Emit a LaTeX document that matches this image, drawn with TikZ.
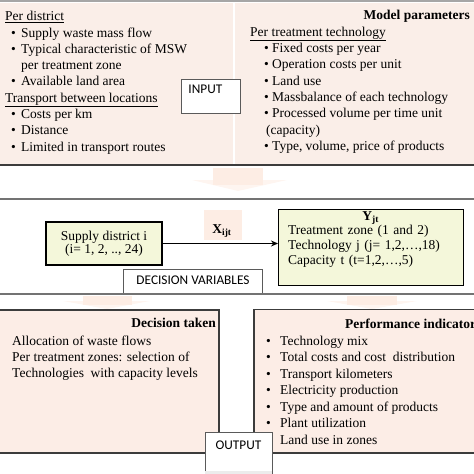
\documentclass[tikz,border=0pt]{standalone}
\usepackage{fontspec}
\setmainfont{Liberation Serif}
\newfontfamily\calib{Carlito}
\usetikzlibrary{arrows.meta}
\definecolor{pinkA}{RGB}{250,238,232}
\definecolor{pinkB}{RGB}{252,237,230}
\definecolor{faint}{RGB}{253,237,228}
\definecolor{fainter}{RGB}{254,245,240}
\definecolor{yel}{RGB}{244,247,218}
\definecolor{lineg}{RGB}{115,115,115}
\definecolor{darkg}{RGB}{60,60,60}
\definecolor{boxg}{RGB}{90,90,90}
\newcommand\mystrut{\rule{0pt}{13pt}}
\newcommand\bulL{\makebox[10pt][l]{\textbullet}}
\newcommand\bulR{\makebox[8pt][l]{\textbullet}}
\newcommand\bulP{\makebox[14pt][l]{\textbullet}}
\begin{document}
\begin{tikzpicture}[x=1pt,y=-1pt,
  txt/.style={inner sep=0pt, anchor=north west, align=left, font=\fontsize{13.5}{16.3}\selectfont},
  ttl/.style={inner sep=0pt, font=\fontsize{13.5}{16}\selectfont\bfseries},
  yelbox/.style={draw=black, line width=1.3pt, fill=yel, inner sep=0pt},
  sanslab/.style={draw=boxg, line width=0.9pt, fill=white, font=\calib\fontsize{13.3}{15}\selectfont, inner ysep=0pt},
  sect/.style={line width=2pt, draw=lineg},
  outbox/.style={draw=darkg, line width=1.4pt, fill=pinkB},
  arr/.style={line width=1.4pt, -{Stealth[length=7pt,width=6pt]}},
  faintfill/.style={fill=faint, draw=none},
  fainterfill/.style={fill=fainter, draw=none}]
\useasboundingbox (0,0) rectangle (474,474);
% ---------- top section ----------
\fill[pinkA] (0,2.5) rectangle (233,164);
\fill[pinkA] (235,2.5) rectangle (474,164);
\draw[line width=2.5pt, draw=gray!70] (0,1.2) -- (474,1.2);
\draw[line width=2.5pt, draw=darkg] (0,165) -- (474,165);
\node[txt] (leftin) at (5,7.5) {\mystrut\underline{Per district}\\
\hspace*{6pt}\bulL Supply waste mass flow\\
\hspace*{6pt}\bulL Typical characteristic of MSW\\
\hspace*{16pt}per treatment zone\\
\hspace*{6pt}\bulL Available land area\\
\underline{Transport between locations}\\
\hspace*{6pt}\bulL Costs per km\\
\hspace*{6pt}\bulL Distance\\
\hspace*{6pt}\bulL Limited in transport routes};
\node[ttl, anchor=base east] (mp) at (470,19.5) {Model parameters};
\node[txt] (rightin) at (250,23) {\mystrut\underline{Per treatment technology}\\
\hspace*{14pt}\bulR Fixed costs per year\\
\hspace*{14pt}\bulR Operation costs\ per unit\\
\hspace*{14pt}\bulR Land use\\
\hspace*{14pt}\bulR Massbalance of each technology\\
\hspace*{14pt}\bulR Processed volume per time unit\\
\hspace*{16pt}(capacity)\\
\hspace*{14pt}\bulR Type, volume, price of products};
\node[sanslab, anchor=base west, text width=45pt, inner xsep=7pt, text height=14pt, text depth=20pt, align=left] (inp) at (181,93) {INPUT};
% faint arrow between top and middle
\path[fainterfill] (192,180) -- (287,180) -- (238,191) -- cycle;
\path[faintfill] (213,167.5) rectangle (263,185);
% ---------- middle section ----------
\draw[sect] (0,198.5) -- (474,198.5);
\draw[sect] (0,293.5) -- (474,293.5);
\path[faintfill] (204,210) rectangle (242,240);
\node[yelbox, minimum width=116pt, minimum height=43pt, align=center, font=\fontsize{13.5}{13.5}\selectfont] (sup) at (104,243.5) {Supply district i\\(i= 1, 2, .., 24)};
\node[yelbox, minimum width=185pt, minimum height=76pt, anchor=north west] (yb) at (278,209) {};
\node[txt, text width=165pt, font=\fontsize{13.5}{14.7}\selectfont] (ybt) at (288,209) {\rule{0pt}{11pt}\makebox[\linewidth][c]{\textbf{Y\textsubscript{jt}}}\\
Treatment zone (1 and 2)\\
Technology j (j= 1,2,…,18)\\
Capacity t (t=1,2,…,5)};
\node[inner sep=0pt, anchor=base, font=\fontsize{13.5}{16}\selectfont] (xl) at (222,233) {\textbf{X\textsubscript{ijt}}};
\draw[arr] (sup.east) -- (sup.east -| yb.west);
\node[inner sep=0pt, anchor=base, minimum width=138pt, text height=14pt, text depth=9pt, font=\calib\fontsize{13.3}{15}\selectfont] (dv) at (193,284) {DECISION VARIABLES};
\draw[draw=boxg, line width=0.9pt] (dv.south west) |- (dv.north east) -- (dv.south east);
% faint arrows to bottom
\path[fainterfill] (63,301) -- (150,301) -- (107,309) -- cycle;
\path[faintfill] (83,295.5) rectangle (132,305);
\path[fainterfill] (327,301) -- (417,301) -- (372,309) -- cycle;
\path[faintfill] (347,295.5) rectangle (397,305);
% ---------- bottom section ----------
\draw[outbox] (-2,310) rectangle (219,453);
\draw[outbox] (254,309.5) rectangle (480,453);
\node[ttl, anchor=base east] (dt) at (216,327.7) {Decision taken};
\node[txt, font=\fontsize{13.5}{16}\selectfont] (dtl) at (12,332) {\mystrut Allocation of waste flows\\
Per treatment zones: selection of\\
Technologies\ \ with capacity levels};
\node[ttl, anchor=base west] (pi) at (345,328) {Performance indicators};
\node[txt, font=\fontsize{13.5}{16.5}\selectfont] (pil) at (266,332) {\mystrut\bulP Technology mix\\
\bulP Total costs and cost\ \ distribution\\
\bulP Transport kilometers\\
\bulP Electricity production\\
\bulP Type and amount of products\\
\bulP Plant utilization\\
\bulP Land use in zones};
\node[sanslab, anchor=base, minimum width=67pt, text height=17pt, text depth=30pt] (outp) at (238.5,449) {OUTPUT};
\fill[gray!15] ([xshift=0.6pt]outp.west |- 0,471) rectangle ([xshift=-0.6pt]outp.east |- 0,474);
\end{tikzpicture}
\end{document}
